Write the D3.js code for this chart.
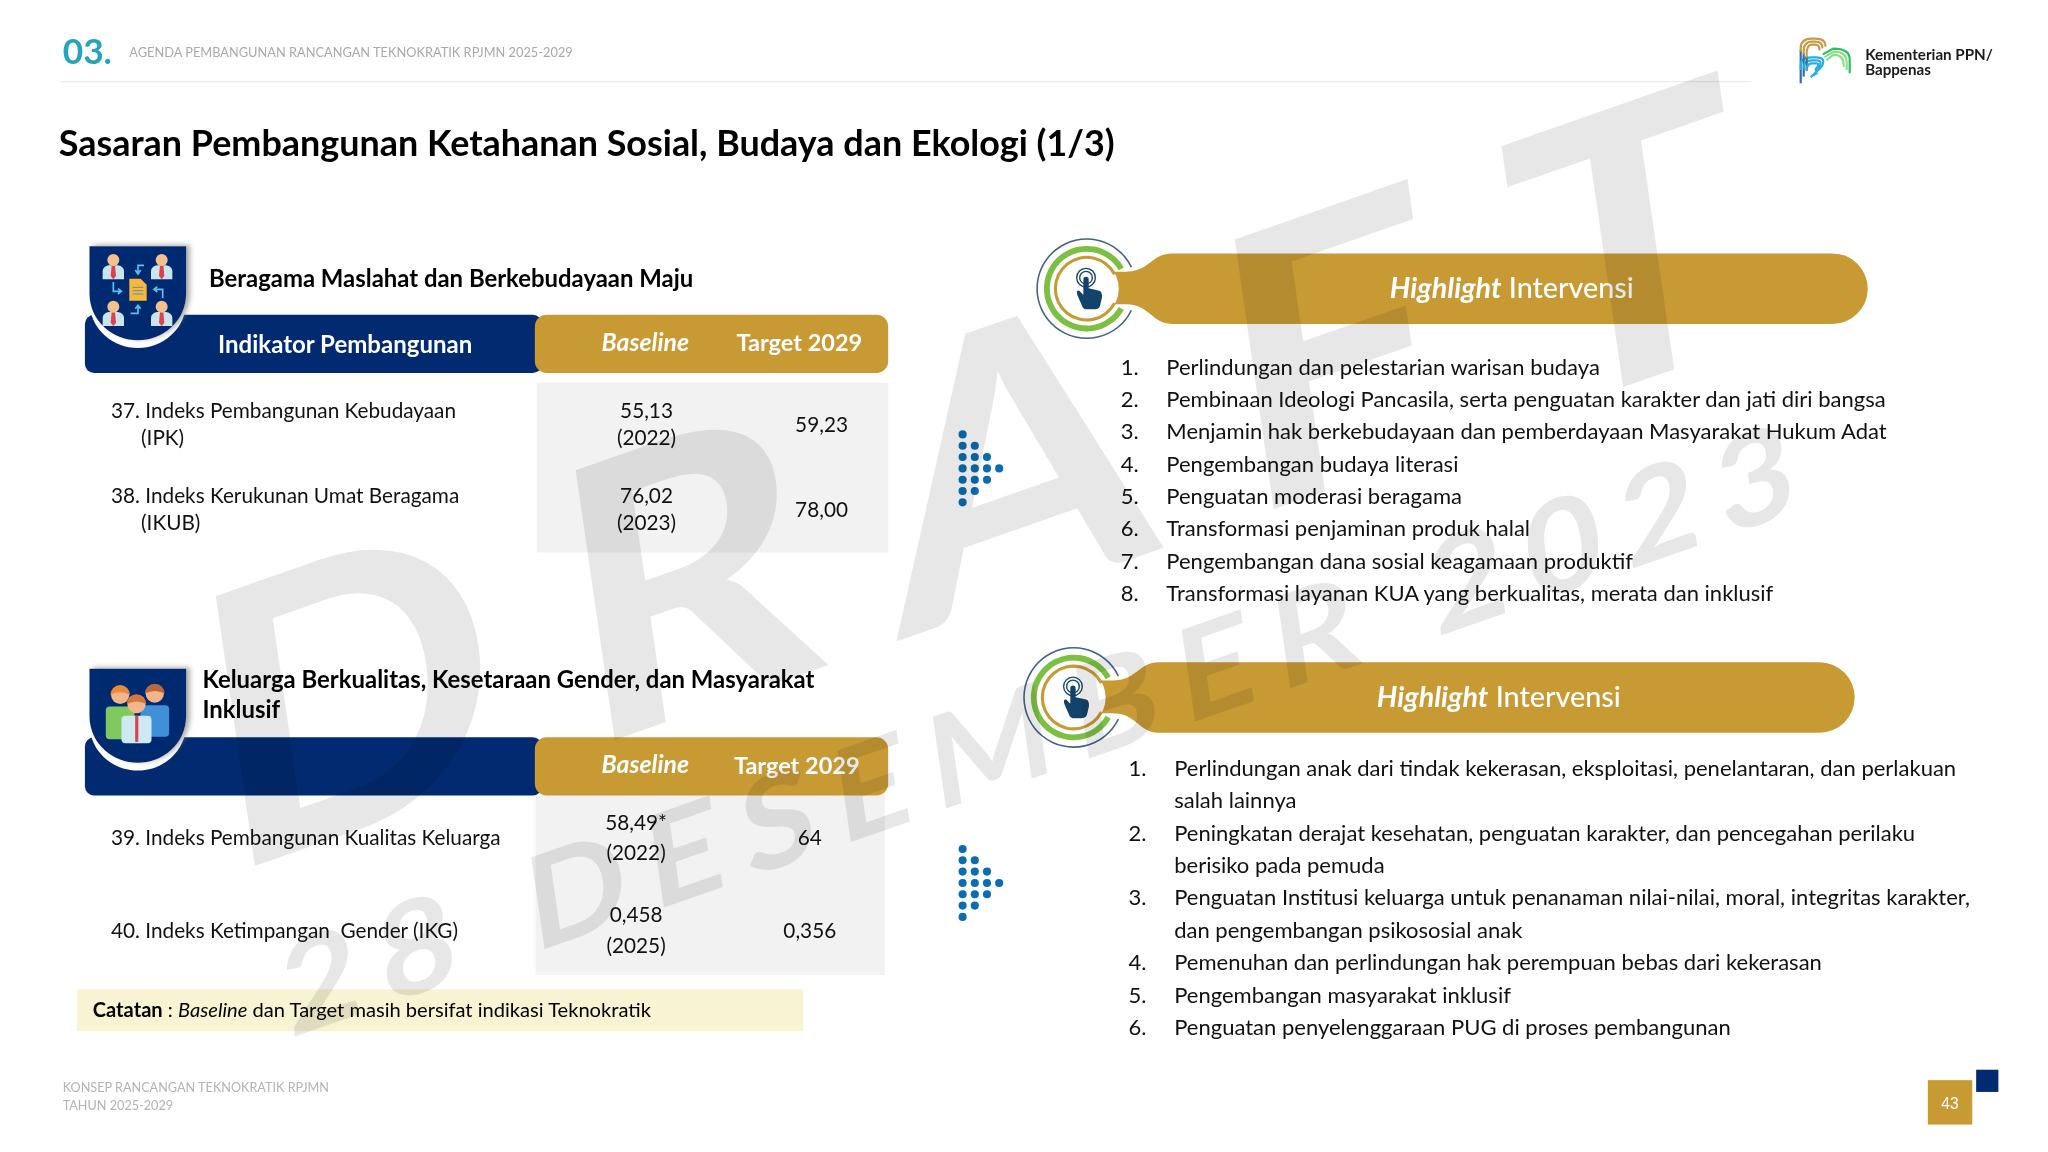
<!DOCTYPE html>
<html>
<head>
<meta charset="utf-8">
<script src="https://cdn.jsdelivr.net/npm/d3@7"></script>
<style>
  html, body { margin: 0; padding: 0; background: #fff; }
  svg { display: block; font-family: Lato, sans-serif; }
</style>
</head>
<body>
<div id="app"></div>
<script>
const sectionNumber = '03.'
const agendaLabel = 'AGENDA PEMBANGUNAN RANCANGAN TEKNOKRATIK RPJMN 2025-2029'
const pageTitle = 'Sasaran Pembangunan Ketahanan Sosial, Budaya dan Ekologi (1/3)'
const logoLines = ['Kementerian PPN/', 'Bappenas']
const footerLines = ['KONSEP RANCANGAN TEKNOKRATIK RPJMN', 'TAHUN 2025-2029']
const pageNumber = '43'

const groupATitle = ['Beragama Maslahat dan Berkebudayaan Maju']
const groupAHeader = 'Indikator Pembangunan'
const groupAIndicators = [['37. Indeks Pembangunan Kebudayaan', '(IPK)'], ['38. Indeks Kerukunan Umat Beragama', '(IKUB)']]
const groupABaselines = [['55,13', '(2022)'], ['76,02', '(2023)']]
const groupATargets = ['59,23', '78,00']

const groupBTitle = ['Keluarga Berkualitas, Kesetaraan Gender, dan Masyarakat', 'Inklusif']
const groupBIndicators = [['39. Indeks Pembangunan Kualitas Keluarga'], ['40. Indeks Ketimpangan  Gender (IKG)']]
const groupBBaselines = [['58,49*', '(2022)'], ['0,458', '(2025)']]
const groupBTargets = ['64', '0,356']

const interventionsA = [
  'Perlindungan dan pelestarian warisan budaya',
  'Pembinaan Ideologi Pancasila, serta penguatan karakter dan jati diri bangsa',
  'Menjamin hak berkebudayaan dan pemberdayaan Masyarakat Hukum Adat',
  'Pengembangan budaya literasi',
  'Penguatan moderasi beragama',
  'Transformasi penjaminan produk halal',
  'Pengembangan dana sosial keagamaan produktif',
  'Transformasi layanan KUA yang berkualitas, merata dan inklusif'
]
const interventionsB = [
  ['Perlindungan anak dari tindak kekerasan, eksploitasi, penelantaran, dan perlakuan', 'salah lainnya'],
  ['Peningkatan derajat kesehatan, penguatan karakter, dan pencegahan perilaku', 'berisiko pada pemuda'],
  ['Penguatan Institusi keluarga untuk penanaman nilai-nilai, moral, integritas karakter,', 'dan pengembangan psikososial anak'],
  ['Pemenuhan dan perlindungan hak perempuan bebas dari kekerasan'],
  ['Pengembangan masyarakat inklusif'],
  ['Penguatan penyelenggaraan PUG di proses pembangunan']
]
const arrowColumns = [7, 5, 3, 1]

const NAVY = '#012a70'
const GOLD = '#c89a33'
const INK = '#111'

const svg = d3.select('#app')
  .append('svg')
  .attr('width', 2048)
  .attr('height', 1152)
  .attr('viewBox', '0 0 1568 882')

const defs = svg.append('defs')
defs.append('filter').attr('id', 'soft')
  .attr('x', '-20%').attr('y', '-20%').attr('width', '140%').attr('height', '140%')
  .append('feDropShadow')
  .attr('dx', 3).attr('dy', -1).attr('stdDeviation', 2).attr('flood-color', '#888').attr('flood-opacity', 0.7)

function label(parent, str, x, y, size, opts = {}) {
  return parent.append('text')
    .attr('x', x)
    .attr('y', y)
    .attr('font-size', size)
    .attr('font-weight', opts.weight || 400)
    .attr('font-style', opts.style || 'normal')
    .attr('text-anchor', opts.anchor || 'start')
    .attr('fill', opts.fill || INK)
    .text(str)
}

// frame for shapes measured on a 3x crop of the 2048 px picture
const frame = (x, y) => `translate(${x / 1.3061}, ${y / 1.3061}) scale(${1 / (3 * 1.3061)})`

// header
label(svg, sectionNumber, 48, 49, 27, { weight: 700, fill: '#27a3bd' })
label(svg, agendaLabel, 99, 44, 9.8, { fill: '#a9a9a9' })
svg.append('line').attr('x1', 46).attr('x2', 1340).attr('y1', 62.5).attr('y2', 62.5).attr('stroke', '#ececec')
label(svg, pageTitle, 45, 119.5, 27.5, { weight: 700, fill: '#000' })

// logo
const logo = svg.append('g').attr('transform', frame(1780, 20)).attr('fill', 'none').attr('stroke-width', 6.5)
d3.range(3).forEach(i => {
  const o = i * 9
  logo.append('path').attr('stroke', '#2f6fa8').attr('d', `M${62 + o} ${190 - i * 20}V${90 + o}`)
  logo.append('path').attr('stroke', '#c89a45').attr('d', `M${62 + o} ${95 + o}V${85 + o}Q${62 + o} ${56 + o} ${95} ${56 + o}H${105}Q${138 - o} ${56 + o} ${136 - o} ${80 + o * 0.6}`)
  logo.append('path').attr('stroke', i ? '#8fdf88' : '#2fbb63').attr('d', `M${128 + o * 0.6} ${103 + o}L${160} ${86 + o}Q${209 - o} ${86 + o} ${209 - o} ${118 + o}V${160 - i * 10}`)
  logo.append('path').attr('stroke', '#28ace6').attr('d', `M${62 + o} ${150 - i * 4}V${135 + o}Q${62 + o} ${112 + o} ${95} ${112 + o}H${108}Q${140 - o} ${112 + o} ${125 - o} ${140 + o * 0.4}L${92 + o} ${172 - i * 4}`)
})
logoLines.forEach((d, i) => label(svg, d, 1428, 46 + i * 11.5, 11.6, { weight: 700, fill: '#1a1a1a' }))

// table panels
function drawTable(cfg) {
  const g = svg.append('g')
  g.append('path').attr('fill', '#f2f2f2')
    .attr('d', `M${cfg.greyX[0]} ${cfg.greyY[0]}H${cfg.greyX[1]}V${cfg.greyY[1]}H${cfg.greyX[0]}Z`)
  g.append('rect').attr('x', 65).attr('y', cfg.barY).attr('width', 350).attr('height', 44.5).attr('rx', 7).attr('fill', NAVY)
  g.append('rect').attr('x', 409.5).attr('y', cfg.barY).attr('width', 270.5).attr('height', 44.5).attr('rx', 9).attr('fill', GOLD)

  // shield with the white crescent under it
  const top = cfg.barY - 52.5
  const shield = d => `M68.5 ${top + d}H142.5V${top + 36 + d}C142.5 ${top + 58 + d} 124 ${top + 72 + d} 105.5 ${top + 72 + d}C87 ${top + 72 + d} 68.5 ${top + 58 + d} 68.5 ${top + 36 + d}Z`
  g.append('path').attr('d', shield(6)).attr('fill', '#fff')
  g.append('path').attr('d', shield(0)).attr('fill', NAVY).attr('filter', 'url(#soft)')

  cfg.titleLines.forEach((d, i) => label(g, d, cfg.titleX, cfg.titleY + i * 23.5, 18.3, { weight: 700, fill: '#000' }))

  if (cfg.header) label(g, cfg.header, 167, cfg.barY + 29.5, 18.4, { weight: 700, fill: '#fff' })
  label(g, 'Baseline', 494, cfg.barY + 27.5, 19, { weight: 700, style: 'italic', fill: '#fff', anchor: 'middle' })
  label(g, 'Target 2029', cfg.targetHeadX, cfg.barY + 28, 18, { weight: 700, fill: '#fff', anchor: 'middle' })

  const rowY = d3.scalePoint().domain(d3.range(cfg.indicators.length)).range(cfg.rowRange)

  const rows = g.selectAll('g.row')
    .data(cfg.indicators.map((d, i) => ({ indicator: d, baseline: cfg.baselines[i], target: cfg.targets[i], y: rowY(i) })))
    .enter().append('g').attr('class', 'row')

  rows.each(function (d) {
    const row = d3.select(this)
    const start = d.y - (d.indicator.length - 1) * cfg.indicatorGap / 2
    d.indicator.forEach((t, i) => label(row, t, i ? 108 : 85, start + i * cfg.indicatorGap, 15.9).attr('xml:space', 'preserve'))
    d.baseline.forEach((t, i) => label(row, t, cfg.baselineX, d.y - cfg.baselineGap / 2 + i * cfg.baselineGap, 15.9, { anchor: 'middle' }))
    label(row, d.target, cfg.targetX, d.y, 15.9, { anchor: 'middle' })
  })
  return g
}

const tableA = drawTable({
  barY: 241, greyX: [411, 680], greyY: [293, 423],
  titleLines: groupATitle, titleX: 160, titleY: 219.5, header: groupAHeader, targetHeadX: 612,
  indicators: groupAIndicators, baselines: groupABaselines, targets: groupATargets,
  rowRange: [330.5, 395.5], indicatorGap: 20.5, baselineGap: 20.5, baselineX: 495, targetX: 629
})

const tableB = drawTable({
  barY: 564.5, greyX: [410, 677.5], greyY: [605, 746.5],
  titleLines: groupBTitle, titleX: 155, titleY: 526.5, targetHeadX: 610,
  indicators: groupBIndicators, baselines: groupBBaselines, targets: groupBTargets,
  rowRange: [647, 718], indicatorGap: 0, baselineGap: 23.5, baselineX: 487, targetX: 620
})

// icon on the first shield, 3x crop coordinates
const iconA = svg.append('g').attr('transform', frame(70, 230))
const people = [[130, 110], [275, 110], [130, 250], [275, 250]]
iconA.selectAll('g.person').data(people).enter().append('g')
  .attr('transform', d => `translate(${d[0]}, ${d[1]})`)
  .each(function () {
    const p = d3.select(this)
    p.append('path').attr('d', 'M-32 38V14Q-32 0 -14 -4H14Q32 0 32 14V38Z').attr('fill', '#c9e6ee')
    p.append('path').attr('d', 'M-5 -4H5L8 28L0 38L-8 28Z').attr('fill', '#d9444f')
    p.append('circle').attr('cy', -20).attr('r', 18).attr('fill', '#f4c08e')
  })
iconA.append('path').attr('d', 'M178 146H212L230 164V212H178Z').attr('fill', '#f6b73c')
iconA.selectAll('line.doc').data([172, 182, 192]).enter().append('line')
  .attr('x1', 188).attr('x2', 220).attr('y1', d => d).attr('y2', d => d).attr('stroke', '#4e92b8').attr('stroke-width', 3)
iconA.append('g').attr('fill', 'none').attr('stroke', '#5bc0f2').attr('stroke-width', 5)
  .selectAll('path').data([
    'M222 106H204V128M196 120L204 132L212 120',
    'M130 156V184H152M144 176L154 184L144 192',
    'M278 205V178H254M262 170L252 178L262 186',
    'M182 250H204V228M196 236L204 226L212 236'
  ]).enter().append('path').attr('d', d => d)

// icon on the second shield
const iconB = svg.append('g')
const bust = [
  { x: 92, y: 531, hair: '#e98a3c', body: '#7fc95f', w: 22, y2: 566 },
  { x: 118.5, y: 530, hair: '#b9683f', body: '#3e90d8', w: 22, y2: 564 },
  { x: 104.5, y: 538, hair: '#d5773f', body: '#cfe9f3', w: 23, y2: 569 }
]
iconB.selectAll('g').data(bust).enter().append('g').each(function (d) {
  const p = d3.select(this)
  p.append('rect').attr('x', d.x - d.w / 2).attr('y', d.y + 10).attr('width', d.w).attr('height', d.y2 - d.y - 10).attr('rx', 3).attr('fill', d.body)
  p.append('circle').attr('cx', d.x).attr('cy', d.y + 1).attr('r', 7).attr('fill', '#f3b68b')
  p.append('path').attr('d', `M${d.x - 7.5} ${d.y + 1}A7.5 7.5 0 0 1 ${d.x + 7.5} ${d.y + 1}Q${d.x} ${d.y - 3} ${d.x - 7.5} ${d.y + 1}Z`).attr('fill', d.hair)
})
iconB.append('rect').attr('x', 103.5).attr('y', 548).attr('width', 2.4).attr('height', 20).attr('fill', '#d9444f')

// catatan
svg.append('rect').attr('x', 59).attr('y', 757.5).attr('width', 556).attr('height', 32).attr('fill', '#f8f3d2')
const note = label(svg, 'Catatan', 71, 779, 15.4, { weight: 700, fill: '#000' })
note.append('tspan').attr('font-weight', 400).text(' : ')
note.append('tspan').attr('font-weight', 400).attr('font-style', 'italic').text('Baseline')
note.append('tspan').attr('font-weight', 400).text(' dan Target masih bersifat indikasi Teknokratik')

// dotted arrows
const arrowX = d3.scalePoint().domain(d3.range(arrowColumns.length)).range([737, 765])
const arrowY = d3.scaleLinear().domain([-3, 3]).range([-26, 26])
;[358.6, 676].forEach(cy => {
  const dots = arrowColumns.flatMap((n, c) => d3.range(n).map(i => ({ c, r: i - (n - 1) / 2 })))
  svg.append('g').selectAll('circle').data(dots).enter().append('circle')
    .attr('cx', d => arrowX(d.c))
    .attr('cy', d => cy + arrowY(d.r))
    .attr('r', 3.1)
    .attr('fill', '#0b6db0')
})

// highlight pill with rings and hand
function drawHighlight(dx, dy, right) {
  const g = svg.append('g').attr('transform', `translate(${dx}, ${dy})`)
  const cx = 832, cy = 221
  g.append('path').attr('fill', GOLD)
    .attr('d', `M${right - 27} 194A27 27 0 0 1 ${right - 27} 248H897C882 248 880 233 862 233H845V208H862C880 208 882 194 897 194Z`)
  g.append('circle').attr('cx', cx).attr('cy', cy).attr('r', 24.5).attr('fill', '#fff')

  const ring = (r, w, gap, color) => g.append('path')
    .attr('transform', `translate(${cx}, ${cy})`)
    .attr('fill', color)
    .attr('d', d3.arc()({ innerRadius: r - w / 2, outerRadius: r + w / 2, startAngle: Math.PI / 2 + gap, endAngle: Math.PI * 2.5 - gap }))
  ring(38, 1.2, 0.45, '#3f6385')
  ring(30.5, 4.5, 0.52, '#7cc043')
  ring(24, 2.4, 0.48, GOLD)

  const hand = g.append('g').attr('transform', frame(1020, 220))
  hand.selectAll('circle').data([28, 19]).enter().append('circle')
    .attr('cx', 198).attr('cy', 173).attr('r', d => d)
    .attr('fill', 'none').attr('stroke', '#12436b').attr('stroke-width', 4)
  hand.append('path').attr('fill', '#12436b')
    .attr('d', 'M190 178A8 8 0 0 1 206 178V205L238 212Q247 215 246 232L240 258Q236 268 225 268H197Q190 268 185 255L172 225Q168 210 178 212L190 225Z')

  const txt = label(g, 'Highlight', 1157.5, 228, 22, { weight: 700, style: 'italic', fill: '#fff', anchor: 'middle' })
  txt.append('tspan').attr('font-weight', 500).attr('font-style', 'normal').text(' Intervensi')
}
drawHighlight(0, 0, 1430)
drawHighlight(-10, 313, 1430)

// intervention lists
const listAY = d3.scaleLinear().domain([0, interventionsA.length - 1]).range([287, 460])
interventionsA.forEach((d, i) => {
  label(svg, `${i + 1}.`, 858, listAY(i), 16.85)
  label(svg, d, 893, listAY(i), 16.85)
})

const linesB = interventionsB.flatMap((lines, n) => lines.map((t, j) => ({ t, num: j ? '' : `${n + 1}.` })))
const listBY = d3.scaleLinear().domain([0, linesB.length - 1]).range([594, 792.5])
svg.append('g').selectAll('g').data(linesB).enter().append('g').each(function (d, i) {
  if (d.num) label(d3.select(this), d.num, 864, listBY(i), 16.85)
  label(d3.select(this), d.t, 899, listBY(i), 16.85)
})

// footer
footerLines.forEach((d, i) => label(svg, d, 48, 836 + i * 14, 9.7, { fill: '#b3b3b3' }))
svg.append('rect').attr('x', 1513).attr('y', 819).attr('width', 17).attr('height', 17).attr('fill', NAVY)
svg.append('rect').attr('x', 1476).attr('y', 827).attr('width', 34).attr('height', 34).attr('fill', GOLD)
label(svg, pageNumber, 1493, 849, 12, { fill: '#fff', anchor: 'middle' }).attr('font-family', 'Liberation Sans')

// watermark, multiplied over the slide
const mark = svg.append('g').style('mix-blend-mode', 'multiply')
mark.append('text')
  .attr('transform', 'matrix(2.9 -1.015 0.414 2.857 195 663)')
  .attr('x', '-8 87 170 261 338')
  .attr('font-size', 100)
  .attr('font-weight', 700)
  .attr('fill', '#e7e7e7')
  .text('DRAFT')
mark.append('text')
  .attr('transform', 'matrix(2.9 -1.015 0.414 2.857 222 795)')
  .attr('font-size', 34)
  .attr('font-weight', 700)
  .attr('letter-spacing', 5.6)
  .attr('fill', '#e7e7e7')
  .attr('xml:space', 'preserve')
  .text('28 DESEMBER 2023')
</script>
</body>
</html>
